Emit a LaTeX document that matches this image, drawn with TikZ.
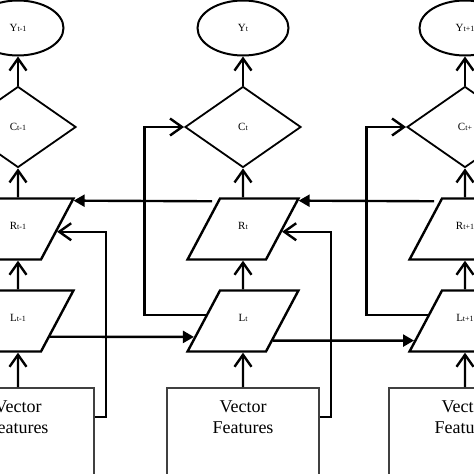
\documentclass[tikz,border=0pt]{standalone}
\usepackage{fontspec}
\setmainfont{Liberation Serif}
\usetikzlibrary{shapes.geometric,arrows.meta}

\newcommand{\tsub}[1]{{\fontsize{8}{9}\selectfont #1}}

\tikzstyle{yv}=[shape=ellipse,
                draw=black,
                line width=2pt,
                minimum width=91pt,
                minimum height=55pt,
                inner sep=0pt,
                font=\fontsize{11}{12}\selectfont]
\tikzstyle{cv}=[shape=diamond,
                draw=black,
                line width=1.8pt,
                minimum width=116pt,
                minimum height=81pt,
                inner sep=0pt,
                font=\fontsize{11}{12}\selectfont]
\tikzstyle{rv}=[shape=trapezium,
                trapezium left angle=62,
                trapezium right angle=118,
                draw=black,
                line width=2.4pt,
                text width=46pt,
                align=center,
                text height=4pt,
                text depth=4pt,
                inner xsep=0pt,
                inner ysep=26.5pt,
                font=\fontsize{11}{12}\selectfont]
\tikzstyle{fv}=[shape=rectangle,
                draw=black!75,
                line width=1.5pt,
                minimum width=152pt,
                minimum height=120pt,
                anchor=north]
\tikzstyle{ft}=[align=center,
                font=\fontsize{18}{21}\selectfont]
\tikzstyle{link}=[line width=2.4pt]
\tikzstyle{carry}=[-{Triangle[length=11pt,width=12pt]}]

\begin{document}
\begin{tikzpicture}[>={Straight Barb[length=12pt,width=17pt]},x=1pt,y=-1pt]

\clip (0,0) rectangle (474,474);

% outputs
\node[yv] (y1) at (18,28)  {Y\tsub{t-1}};
\node[yv] (y2) at (243,28) {Y\tsub{t}};
\node[yv] (y3) at (465,28) {Y\tsub{t+1}};

% cells
\node[cv] (c1) at (18,127)  {C\tsub{t-1}};
\node[cv] (c2) at (243,127) {C\tsub{t}};
\node[cv] (c3) at (465,127) {C\tsub{t+}};

% right to left states
\node[rv] (r1) at (18,229)  {R\tsub{t-1}};
\node[rv] (r2) at (243,229) {R\tsub{t}};
\node[rv] (r3) at (465,229) {R\tsub{t+1}};

% left to right states
\node[rv] (l1) at (18,321)  {L\tsub{t-1}};
\node[rv] (l2) at (243,321) {L\tsub{t}};
\node[rv] (l3) at (465,321) {L\tsub{t+1}};

% features
\node[fv] (f1) at (18,387)  {};
\node[fv] (f2) at (243,387) {};
\node[fv] (f3) at (465,387) {};
\node[ft] (t1) at (18,417)  {Vector\\Features};
\node[ft] (t2) at (243,417) {Vector\\Features};
\node[ft] (t3) at (465,417) {Vector\\Features};

% paths
\path[link,->] (c1) edge (y1);
\path[link,->] (c2) edge (y2);
\path[link,->] (c3) edge (y3);
\path[link,->] (r1) edge (c1);
\path[link,->] (r2) edge (c2);
\path[link,->] (r3) edge (c3);
\path[link,->] (l1) edge (r1);
\path[link,->] (l2) edge (r2);
\path[link,->] (l3) edge (r3);
\path[link,->] (f1) edge (l1);
\path[link,->] (f2) edge (l2);
\path[link,->] (f3) edge (l3);

\draw[link,carry,shorten <=5pt] (r2.133) -- (r1.27);
\draw[link,carry,shorten <=5pt] (r3.133) -- (r2.27);
\draw[link,carry] (l1.-26) -- (l2.198);
\draw[link,carry] (l2.-33) -- (l3.201);

\draw[link,->] (l2.171) -- ++(-61,0) |- (c2.west);
\draw[link,->] (l3.171) -- ++(-61,0) |- (c3.west);

\draw[link,->] ([yshift=-30pt]f1.north east) -- ++(11,0) |- (r1.-4);
\draw[link,->] ([yshift=-30pt]f2.north east) -- ++(11,0) |- (r2.-4);

\end{tikzpicture}
\end{document}
